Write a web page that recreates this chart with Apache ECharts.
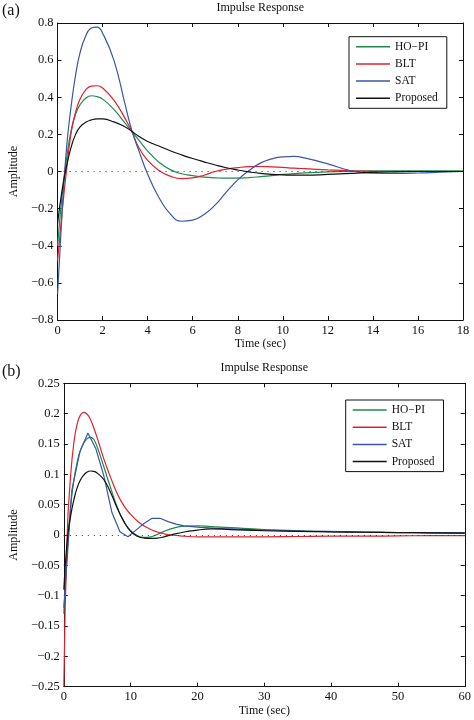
<!DOCTYPE html>
<html>
<head>
<meta charset="utf-8">
<script src="https://cdn.jsdelivr.net/npm/echarts@6/dist/echarts.min.js"></script>
<style>
  html, body { margin: 0; padding: 0; background: #fff; }
  #chart { width: 474px; height: 720px; }
</style>
</head>
<body>
<div id="chart"></div>
<script>
// series names (legend order)
const names = ['HO\u2212PI', 'BLT', 'SAT', 'Proposed']
const colors = ['#1f8a4c', '#e1222b', '#3a56a6', '#111111']

// (a) time samples and responses
const timeA = [0, 0.2, 0.4, 0.6, 0.8, 1, 1.25, 1.5, 1.75, 2, 2.5, 3, 3.3, 3.6, 4, 4.5, 5, 5.5, 6, 6.5, 7, 7.5, 8, 8.5, 9, 9.5, 10, 10.5, 11, 12, 13, 14, 15, 16, 17, 18]
const hoPiA = [-0.40, -0.13, 0.07, 0.22, 0.31, 0.36, 0.395, 0.408, 0.403, 0.39, 0.335, 0.26, 0.216, 0.17, 0.11, 0.05, 0.01, -0.012, -0.022, -0.03, -0.034, -0.036, -0.036, -0.033, -0.028, -0.022, -0.016, -0.011, -0.007, -0.002, 0.001, 0.003, 0.003, 0.003, 0.003, 0.003]
const bltA = [-0.48, -0.22, 0.01, 0.207, 0.32, 0.39, 0.44, 0.46, 0.462, 0.45, 0.385, 0.285, 0.216, 0.13, 0.06, 0.005, -0.025, -0.038, -0.034, -0.02, 0.0, 0.013, 0.021, 0.026, 0.027, 0.025, 0.022, 0.018, 0.015, 0.009, 0.004, 0.001, 0, 0, 0, 0]
const satA = [-0.66, -0.22, 0.13, 0.35, 0.52, 0.64, 0.73, 0.773, 0.778, 0.745, 0.60, 0.36, 0.22, 0.115, -0.015, -0.14, -0.228, -0.268, -0.262, -0.232, -0.18, -0.11, -0.045, 0.005, 0.045, 0.068, 0.079, 0.081, 0.072, 0.041, 0.005, -0.009, -0.01, -0.008, -0.004, 0]
const proposedA = [-0.28, -0.10, 0.03, 0.13, 0.20, 0.24, 0.265, 0.278, 0.284, 0.283, 0.267, 0.24, 0.216, 0.19, 0.162, 0.137, 0.112, 0.09, 0.07, 0.052, 0.035, 0.02, 0.008, -0.002, -0.01, -0.015, -0.018, -0.02, -0.02, -0.016, -0.01, -0.005, -0.002, 0, 0, 0]

// (b) time samples and responses
const timeB = [0, 0.5, 1, 1.5, 2, 2.5, 3, 3.5, 4, 4.5, 5, 6, 7, 8, 9, 10, 11, 12, 13, 14, 15, 16, 18, 20, 22, 25, 30, 35, 40, 45, 50, 55, 60]
const hoPiB = [-0.13, -0.03, 0.045, 0.09, 0.12, 0.14, 0.152, 0.159, 0.161, 0.157, 0.145, 0.112, 0.078, 0.046, 0.022, 0.007, -0.001, -0.004, -0.003, 0.001, 0.006, 0.01, 0.0145, 0.015, 0.014, 0.012, 0.009, 0.007, 0.0055, 0.0045, 0.004, 0.0035, 0.003]
const bltB = [-0.25, 0.0, 0.095, 0.152, 0.183, 0.198, 0.202, 0.199, 0.19, 0.176, 0.16, 0.125, 0.095, 0.068, 0.048, 0.034, 0.023, 0.015, 0.009, 0.005, 0.002, 0, -0.002, -0.003, -0.003, -0.003, -0.003, -0.0025, -0.002, -0.002, -0.0015, -0.001, -0.001]
const proposedB = [-0.09, -0.01, 0.03, 0.058, 0.078, 0.091, 0.099, 0.104, 0.1055, 0.105, 0.102, 0.091, 0.07, 0.044, 0.022, 0.006, -0.002, -0.005, -0.0055, -0.005, -0.003, 0, 0.005, 0.008, 0.01, 0.009, 0.007, 0.006, 0.005, 0.0045, 0.004, 0.0035, 0.003]
// SAT in (b) is coarsely sampled
const satTimeB = [0, 1.2, 2.4, 3.6, 4.8, 6, 7.2, 8.4, 9.6, 10.8, 12, 13.2, 14.4, 15.6, 16.8, 18, 20.4, 24, 30, 36, 42, 48, 54, 60]
const satB = [-0.12, 0.074, 0.137, 0.168, 0.142, 0.097, 0.037, 0.0055, -0.003, 0.008, 0.019, 0.0275, 0.0275, 0.022, 0.018, 0.015, 0.0125, 0.0105, 0.008, 0.0065, 0.0055, 0.0045, 0.004, 0.0035]

const pairs = (xs, ys) => xs.map((x, i) => [x, ys[i]])
const fmt = v => String(+v.toFixed(2)).replace('-', '\u2212')
const serif = 'Liberation Serif'

const chart = echarts.init(document.getElementById('chart'))

const xAx = (grid, min, max, step, pos, extra) => Object.assign({
  gridIndex: grid, type: 'value', min, max, interval: step, position: pos,
  axisLine: { show: true, onZero: false, lineStyle: { color: '#111', width: 1 } },
  axisTick: { show: true, inside: true, length: 4, lineStyle: { color: '#111' } },
  axisLabel: { show: pos === 'bottom', color: '#111', fontFamily: serif, fontSize: 12.5, margin: 4, formatter: fmt },
  splitLine: { show: false }
}, extra)

const yAx = (grid, min, max, step, pos, extra) => Object.assign({
  gridIndex: grid, type: 'value', min, max, interval: step, position: pos,
  axisLine: { show: true, onZero: false, lineStyle: { color: '#111', width: 1 } },
  axisTick: { show: true, inside: true, length: 4, lineStyle: { color: '#111' } },
  axisLabel: { show: pos === 'left', color: '#111', fontFamily: serif, fontSize: 12.5, margin: 4, formatter: fmt },
  splitLine: { show: false }
}, extra)

const nameStyle = { color: '#111', fontFamily: serif, fontSize: 12 }

const legendBox = (left, top) => ({
  orient: 'vertical', left, top,
  data: names,
  icon: 'rect', itemWidth: 34, itemHeight: 1.5, itemGap: 5.2,
  padding: [4, 9, 4, 7],
  borderColor: '#111', borderWidth: 1, borderRadius: 0,
  backgroundColor: '#fff',
  selectedMode: false,
  textStyle: { color: '#111', fontFamily: serif, fontSize: 11.5 }
})

const zeroLine = {
  silent: true, symbol: ['none', 'none'],
  label: { show: false },
  lineStyle: { color: '#333', type: [1, 5], width: 1 },
  data: [{ yAxis: 0 }]
}

const makeSeries = (x, y, list) => list.map((s, i) => ({
  name: names[i], type: 'line', xAxisIndex: x, yAxisIndex: y,
  data: s.data, smooth: s.smooth === false ? false : 0.5,
  showSymbol: false, symbol: 'none',
  lineStyle: { color: colors[i], width: 1.2 },
  itemStyle: { color: colors[i] },
  markLine: i === 0 ? zeroLine : undefined
}))

chart.setOption({
  animation: false,
  backgroundColor: '#fff',
  grid: [
    { left: 49.5, top: 23, width: 413.5, height: 297 },
    { left: 52.7, top: 383.3, width: 413.6, height: 303.4 }
  ],
  xAxis: [
    xAx(0, 0, 18, 2, 'bottom', { name: 'Time (sec)', nameLocation: 'middle', nameGap: 17, nameTextStyle: nameStyle }),
    xAx(0, 0, 18, 2, 'top', { name: 'Impulse Response', nameLocation: 'middle', nameGap: 9, nameTextStyle: nameStyle }),
    xAx(1, 0, 60, 10, 'bottom', { name: 'Time (sec)', nameLocation: 'middle', nameGap: 18, nameTextStyle: nameStyle }),
    xAx(1, 0, 60, 10, 'top', { name: 'Impulse Response', nameLocation: 'middle', nameGap: 9, nameTextStyle: nameStyle })
  ],
  yAxis: [
    yAx(0, -0.8, 0.8, 0.2, 'left', { name: 'Amplitude', nameLocation: 'middle', nameGap: 25, nameTextStyle: nameStyle }),
    yAx(0, -0.8, 0.8, 0.2, 'right'),
    yAx(1, -0.25, 0.25, 0.05, 'left', { name: 'Amplitude', nameLocation: 'middle', nameGap: 29, nameTextStyle: nameStyle }),
    yAx(1, -0.25, 0.25, 0.05, 'right')
  ],
  legend: [legendBox(349, 36.7), legendBox(345.7, 400)],
  graphic: [
    { type: 'text', left: 2, top: 3, style: { text: '(a)', font: '16px "Liberation Serif"', fill: '#111' } },
    { type: 'text', left: 2, top: 364, style: { text: '(b)', font: '16px "Liberation Serif"', fill: '#111' } }
  ],
  series: [
    ...makeSeries(0, 0, [
      { data: pairs(timeA, hoPiA) },
      { data: pairs(timeA, bltA) },
      { data: pairs(timeA, satA) },
      { data: pairs(timeA, proposedA) }
    ]),
    ...makeSeries(2, 2, [
      { data: pairs(timeB, hoPiB) },
      { data: pairs(timeB, bltB) },
      { data: pairs(satTimeB, satB), smooth: false },
      { data: pairs(timeB, proposedB) }
    ])
  ]
})
</script>
</body>
</html>
